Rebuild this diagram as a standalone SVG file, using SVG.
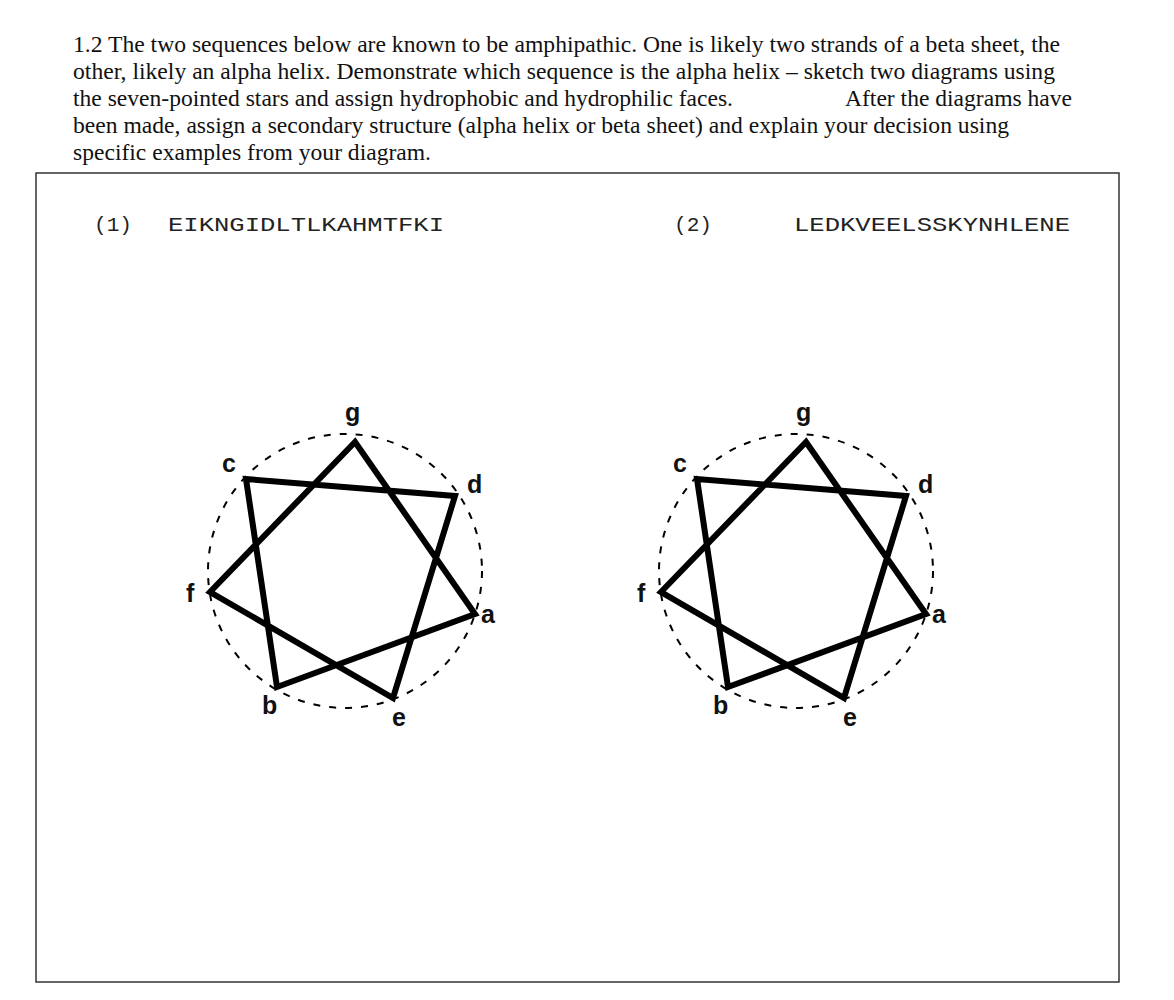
<svg xmlns="http://www.w3.org/2000/svg" width="1174" height="1000" viewBox="0 0 1174 1000">
<style>
.q{font-family:"Liberation Serif",serif;font-size:23.5px;fill:#111}
.m{font-family:"Liberation Mono",monospace;font-size:21px;fill:#222}
.star{fill:none;stroke:#000;stroke-width:6;stroke-linejoin:miter}
.ring{fill:none;stroke:#000;stroke-width:2;stroke-dasharray:7 9}
.lb{font-family:"Liberation Sans",Arial,sans-serif;font-weight:bold;font-size:25px;fill:#111}
</style>
<rect width="1174" height="1000" fill="#fff"/>
<g id="question">
<text class="q" x="73" y="52" textLength="987" lengthAdjust="spacingAndGlyphs">1.2 The two sequences below are known to be amphipathic. One is likely two strands of a beta sheet, the</text>
<text class="q" x="73" y="79" textLength="982" lengthAdjust="spacingAndGlyphs">other, likely an alpha helix. Demonstrate which sequence is the alpha helix – sketch two diagrams using</text>
<text class="q" x="73" y="106" textLength="660" lengthAdjust="spacingAndGlyphs">the seven-pointed stars and assign hydrophobic and hydrophilic faces.</text>
<text class="q" x="845" y="106" textLength="227" lengthAdjust="spacingAndGlyphs">After the diagrams have</text>
<text class="q" x="73" y="133" textLength="936" lengthAdjust="spacingAndGlyphs">been made, assign a secondary structure (alpha helix or beta sheet) and explain your decision using</text>
<text class="q" x="73" y="160" textLength="358" lengthAdjust="spacingAndGlyphs">specific examples from your diagram.</text>
</g>
<rect x="36" y="173" width="1083" height="809" fill="none" stroke="#333" stroke-width="1.5"/>
<g id="seq1"><text class="m" x="94" y="231" textLength="38" lengthAdjust="spacingAndGlyphs">(1)</text><text class="m" x="168" y="231" textLength="276" lengthAdjust="spacingAndGlyphs">EIKNGIDLTLKAHMTFKI</text></g>
<g id="seq2"><text class="m" x="674" y="231" textLength="38" lengthAdjust="spacingAndGlyphs">(2)</text><text class="m" x="794" y="231" textLength="276" lengthAdjust="spacingAndGlyphs">LEDKVEELSSKYNHLENE</text></g>
<defs>
<g id="wheel">
<circle class="ring" cx="345" cy="571" r="137"/>
<polygon class="star" points="355,442 210,592 393,698 455,496 246,479 277,687 475,614"/>
<text class="lb" x="345" y="421">g</text>
<text class="lb" x="222" y="472">c</text>
<text class="lb" x="467" y="493">d</text>
<text class="lb" x="186" y="602">f</text>
<text class="lb" x="481" y="623">a</text>
<text class="lb" x="262" y="714">b</text>
<text class="lb" x="392" y="726">e</text>
</g>
</defs>
<g id="wheel1"><use href="#wheel"/></g>
<g id="wheel2"><use href="#wheel" x="451"/></g>
</svg>
